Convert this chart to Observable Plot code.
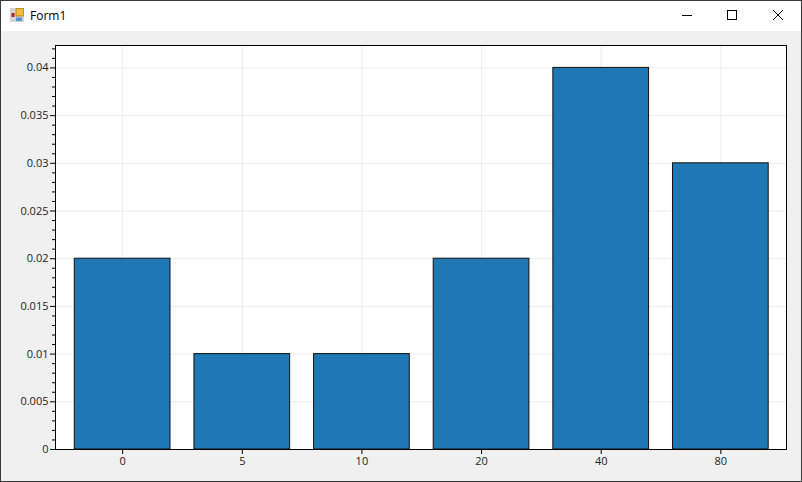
<!DOCTYPE html>
<html><head><meta charset="utf-8">
<script src="https://cdn.jsdelivr.net/npm/d3@7"></script>
<script src="https://cdn.jsdelivr.net/npm/@observablehq/plot@0.6"></script>
<style>
html,body{margin:0;padding:0;background:#f0f0f0;overflow:hidden}
#win{position:relative;width:802px;height:482px;box-sizing:border-box;background:#f0f0f0;overflow:hidden}
#border{position:absolute;left:0;top:0;width:802px;height:482px;box-sizing:border-box;border:1px solid #3a3a3a;pointer-events:none}
#bar{position:absolute;left:0;top:0;width:802px;height:31px;background:#fff}
#title{position:absolute;left:30px;top:8px;font:12px/16px "Open Sans","Noto Sans",sans-serif;color:#000}
#icon,#btns{position:absolute;left:0;top:0}
#chart{position:absolute;left:0;top:31px}
#chart svg{display:block;background:transparent}
</style></head><body>
<div id="win">
<div id="bar">
<svg id="icon" width="30" height="31"><rect x="10" y="8" width="14" height="14" fill="#d4d4d4"/><rect x="16" y="8.5" width="7.5" height="7.5" fill="#f2bb3a" stroke="#a87a10" stroke-width="0.7"/><rect x="11.5" y="13" width="3" height="4" fill="#b02020"/><rect x="16" y="17.5" width="6" height="3.5" fill="#5b8fd8"/></svg>
<div id="title">Form1</div>
<svg id="btns" width="802" height="31" fill="none" stroke="#000"><path d="M682 15.5H692"/><rect x="727.5" y="10.5" width="9" height="9"/><path d="M773 10L783 20M783 10L773 20"/></svg>
</div>
<div id="chart"></div>
<div id="border"></div>
</div>
<script>
const categories = ["0", "5", "10", "20", "40", "80"];
const values = [0.02, 0.01, 0.01, 0.02, 0.04, 0.03];
const majorTicks = [0, 0.005, 0.01, 0.015, 0.02, 0.025, 0.03, 0.035, 0.04];
const minorTicks = [0.001,0.002,0.003,0.004,0.006,0.007,0.008,0.009,0.011,0.012,0.013,0.014,0.016,0.017,0.018,0.019,0.021,0.022,0.023,0.024,0.026,0.027,0.028,0.029,0.031,0.032,0.033,0.034,0.036,0.037,0.038,0.039,0.041,0.042];
const tickLabels = ["0","0.005","0.01","0.015","0.02","0.025","0.03","0.035","0.04"];
const rows = categories.map((c, i) => ({c, v: values[i]}));

const chart = Plot.plot({
  width: 802, height: 450,
  marginTop: 14, marginBottom: 32, marginLeft: 55, marginRight: 16,
  style: {fontFamily: '"Open Sans","Noto Sans",sans-serif', fontSize: "11px", color: "#222", background: "transparent"},
  x: {type: "band", domain: categories, paddingInner: 0.2, paddingOuter: 0.155, align: 0.52, round: false, label: null},
  y: {domain: [0, 0.04235], label: null},
  marks: [
    Plot.frame({fill: "#fff", stroke: "none"}),
    Plot.gridY(majorTicks, {stroke: "#ececec", strokeOpacity: 1}),
    Plot.gridX(categories, {stroke: "#ececec", strokeOpacity: 1}),
    Plot.barY(rows, {x: "c", y: "v", fill: "#1f77b4", stroke: "#111", strokeWidth: 1}),
    Plot.axisY(minorTicks, {tickSize: 3, tickFormat: () => "", stroke: "#000"}),
    Plot.axisY(majorTicks, {tickSize: 5, tickPadding: 2, stroke: "#000", fill: "#222",
      tickFormat: d => tickLabels[majorTicks.indexOf(d)]}),
    Plot.axisX(categories, {tickSize: 5, tickPadding: 3, stroke: "#000", fill: "#222"}),
    Plot.frame({stroke: "#000", strokeWidth: 1})
  ]
});
document.getElementById("chart").appendChild(chart);
</script>
</body></html>
